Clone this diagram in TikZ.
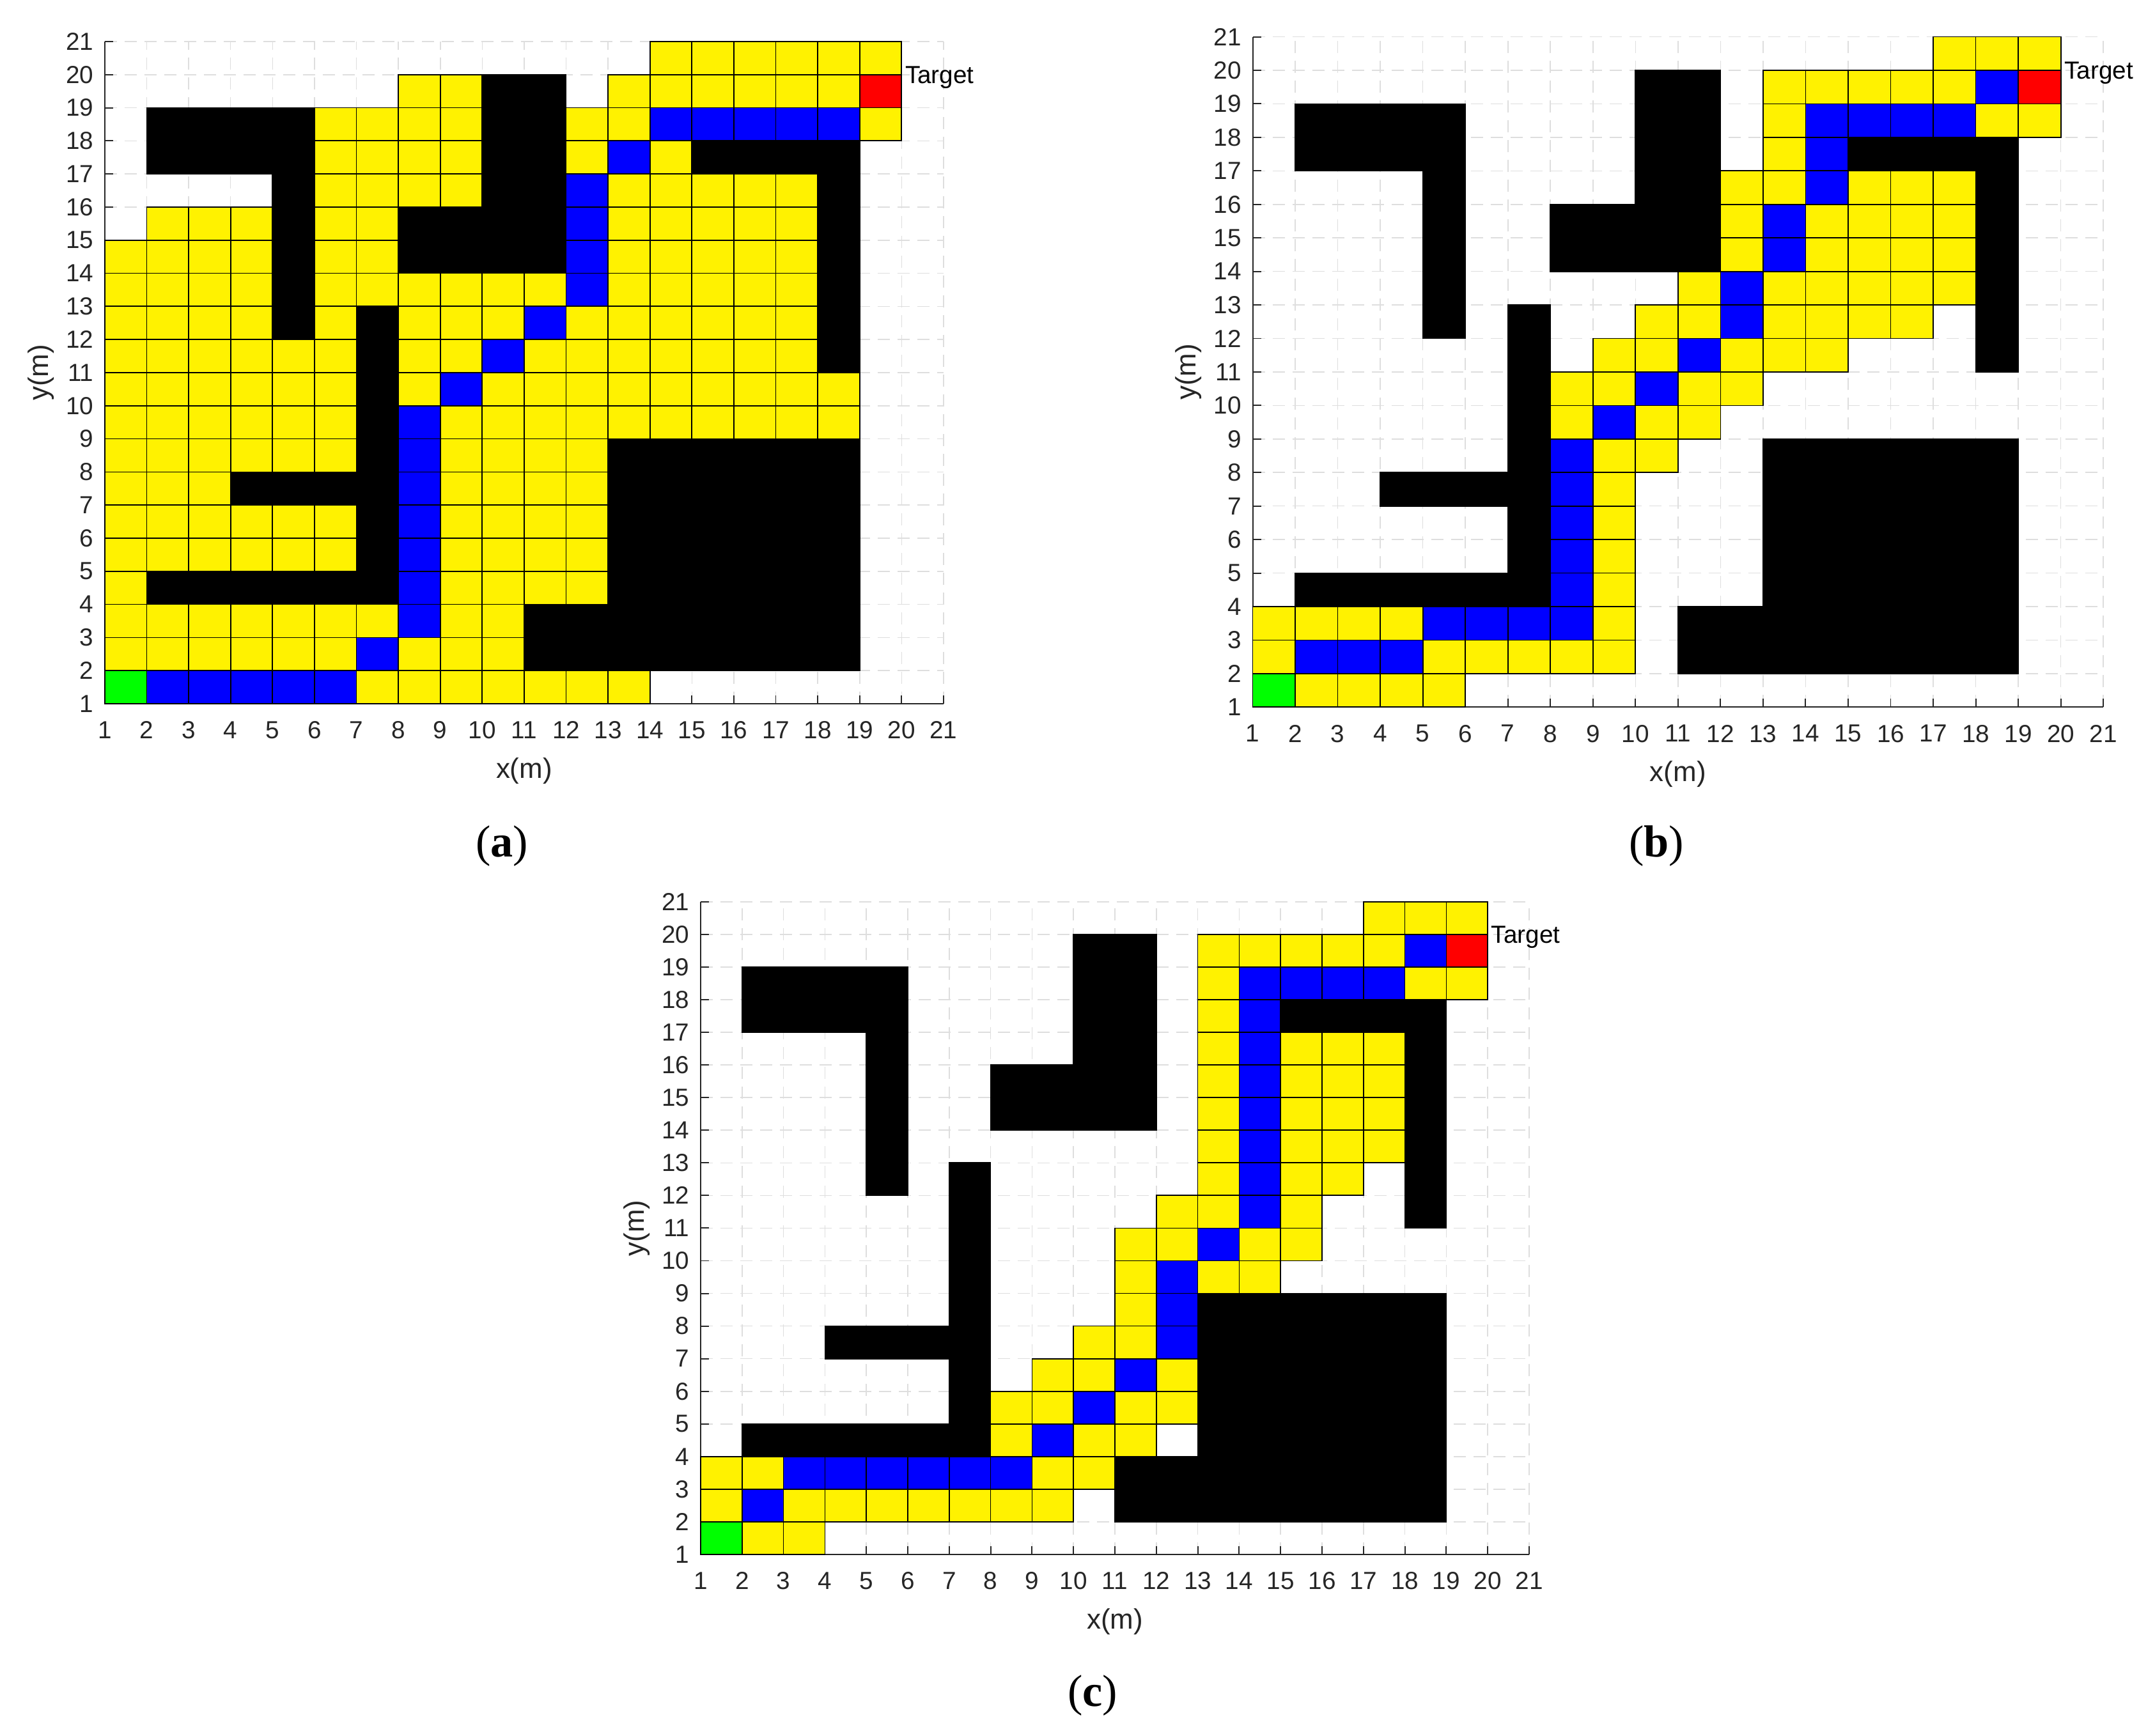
\documentclass[tikz,border=0pt]{standalone}
\usepackage{fontspec}
\setmainfont{Liberation Sans}
\newfontfamily\capfont{Liberation Serif}
\definecolor{gridgray}{RGB}{222,222,222}
\definecolor{axgray}{RGB}{38,38,38}
\tikzset{
  cellline/.style={line width=0.5pt, draw=black},
  yel/.style={cellline, fill=yellow},
  blu/.style={cellline, fill=blue},
  grn/.style={cellline, fill=green},
  redc/.style={cellline, fill=red},
  obst/.style={fill=black, draw=black, line width=0.5pt},
  gridline/.style={draw=gridgray, line width=0.45pt, dash pattern=on 0.19cm off 0.12cm},
  axisline/.style={draw=axgray, line width=0.55pt},
  ticklab/.style={font=\fontsize{11}{13}\selectfont, inner sep=0pt, text=axgray},
  axlab/.style={font=\fontsize{12.5}{15}\selectfont, inner sep=0pt, text=axgray},
  tgt/.style={font=\fontsize{11}{13}\selectfont, inner sep=0pt, text=black},
  capt/.style={font=\capfont\fontsize{20}{24}\selectfont, inner sep=0pt, text=black}
}
\newcommand\rowcells[3]{\foreach \cx in {#3}{\draw[#1] (\cx,#2) rectangle ++(1,1);}}
\newcommand\colcells[3]{\foreach \cy in {#3}{\draw[#1] (#2,\cy) rectangle ++(1,1);}}
\newcommand\panelframe[1]{%
  \foreach \g in {1,...,21}{%
    \draw[gridline] (\g,1) -- (\g,21);
    \draw[gridline] (1,\g) -- (21,\g);
  }%
  \draw[axisline] (1,21) -- (1,1) -- (21,1);
  \foreach \g in {1,...,21}{%
    \draw[axisline] (\g,1) -- ++(0cm,0.13cm);
    \draw[axisline] (1,\g) -- ++(0.13cm,0cm);
    \node[ticklab, anchor=north] (xt#1\g) at ([yshift=-0.27cm]\g,1) {\g};
    \node[ticklab, anchor=east] (yt#1\g) at ([xshift=-0.17cm]1,\g) {\g};
  }%
  \node[axlab] (xl#1) at ([yshift=-1.05cm]11,1) {x(m)};
  \node[axlab, rotate=90] (yl#1) at ([xshift=-1.0cm]1,11) {y(m)};
}
\newcommand\obstacles{%
  \draw[obst] (2,17) rectangle (6,19);
  \draw[obst] (5,12) rectangle (6,17);
  \draw[obst] (10,14) rectangle (12,20);
  \draw[obst] (8,14) rectangle (10,16);
  \draw[obst] (7,4) rectangle (8,13);
  \draw[obst] (2,4) rectangle (7,5);
  \draw[obst] (4,7) rectangle (7,8);
  \draw[obst] (15,17) rectangle (19,18);
  \draw[obst] (18,11) rectangle (19,17);
  \draw[obst] (13,2) rectangle (19,9);
  \draw[obst] (11,2) rectangle (13,4);
}
\newcommand\termcells[1]{%
  \draw[grn] (1,1) rectangle ++(1,1);
  \draw[redc] (19,19) rectangle ++(1,1);
  \node[tgt, anchor=base west] (tg#1) at ([xshift=0.05cm,yshift=-0.14cm]20,20) {Target};
}
\begin{document}
\begin{tikzpicture}
\useasboundingbox (0,0) rectangle (33.71,27.15);
\fill[white] (0,0) rectangle (33.71,27.15);

% ---------- panel (a)
\begin{scope}[shift={(0.983cm,15.622cm)}, x=0.656cm, y=0.518cm]
\panelframe{a}
\rowcells{yel}{20}{14,15,16,17,18,19}
\rowcells{yel}{19}{8,9,13,14,15,16,17,18}
\rowcells{yel}{18}{6,7,8,9,12,13,19}
\rowcells{yel}{17}{6,7,8,9,12,14}
\rowcells{yel}{16}{6,7,8,9,13,14,15,16,17}
\rowcells{yel}{15}{2,3,4,6,7,13,14,15,16,17}
\rowcells{yel}{14}{1,2,3,4,6,7,13,14,15,16,17}
\rowcells{yel}{13}{1,2,3,4,6,7,8,9,10,11,13,14,15,16,17}
\rowcells{yel}{12}{1,2,3,4,6,8,9,10,12,13,14,15,16,17}
\rowcells{yel}{11}{1,2,3,4,5,6,8,9,11,12,13,14,15,16,17}
\rowcells{yel}{10}{1,2,3,4,5,6,8,10,11,12,13,14,15,16,17,18}
\rowcells{yel}{9}{1,2,3,4,5,6,9,10,11,12,13,14,15,16,17,18}
\rowcells{yel}{8}{1,2,3,4,5,6,9,10,11,12}
\rowcells{yel}{7}{1,2,3,9,10,11,12}
\rowcells{yel}{6}{1,2,3,4,5,6,9,10,11,12}
\rowcells{yel}{5}{1,2,3,4,5,6,9,10,11,12}
\rowcells{yel}{4}{1,9,10,11,12}
\rowcells{yel}{3}{1,2,3,4,5,6,7,9,10}
\rowcells{yel}{2}{1,2,3,4,5,6,8,9,10}
\rowcells{yel}{1}{7,8,9,10,11,12,13}
\rowcells{blu}{1}{2,3,4,5,6}
\rowcells{blu}{2}{7}
\colcells{blu}{8}{3,4,5,6,7,8,9}
\rowcells{blu}{10}{9}
\rowcells{blu}{11}{10}
\rowcells{blu}{12}{11}
\colcells{blu}{12}{13,14,15,16}
\rowcells{blu}{17}{13}
\rowcells{blu}{18}{14,15,16,17,18}
\obstacles
\termcells{a}
\end{scope}

% ---------- panel (b)
\begin{scope}[shift={(18.930cm,15.562cm)}, x=0.6653cm, y=0.5244cm]
\panelframe{b}
\rowcells{yel}{20}{17,18,19}
\rowcells{yel}{19}{13,14,15,16,17}
\rowcells{yel}{18}{13,18,19}
\rowcells{yel}{17}{13}
\rowcells{yel}{16}{12,13,15,16,17}
\rowcells{yel}{15}{12,14,15,16,17}
\rowcells{yel}{14}{12,14,15,16,17}
\rowcells{yel}{13}{11,13,14,15,16,17}
\rowcells{yel}{12}{10,11,13,14,15,16}
\rowcells{yel}{11}{9,10,12,13,14}
\rowcells{yel}{10}{8,9,11,12}
\rowcells{yel}{9}{8,10,11}
\rowcells{yel}{8}{9,10}
\colcells{yel}{9}{4,5,6,7}
\rowcells{yel}{3}{1,2,3,4,9}
\rowcells{yel}{2}{1,5,6,7,8,9}
\rowcells{yel}{1}{2,3,4,5}
\rowcells{blu}{2}{2,3,4}
\rowcells{blu}{3}{5,6,7,8}
\colcells{blu}{8}{4,5,6,7,8}
\rowcells{blu}{9}{9}
\rowcells{blu}{10}{10}
\rowcells{blu}{11}{11}
\colcells{blu}{12}{12,13}
\colcells{blu}{13}{14,15}
\colcells{blu}{14}{16,17}
\rowcells{blu}{18}{14,15,16,17}
\rowcells{blu}{19}{18}
\obstacles
\termcells{b}
\end{scope}

% ---------- panel (c)
\begin{scope}[shift={(10.312cm,2.319cm)}, x=0.648cm, y=0.5106cm]
\panelframe{c}
\rowcells{yel}{20}{17,18,19}
\rowcells{yel}{19}{13,14,15,16,17}
\rowcells{yel}{18}{13,18,19}
\rowcells{yel}{17}{13}
\rowcells{yel}{16}{13,15,16,17}
\rowcells{yel}{15}{13,15,16,17}
\rowcells{yel}{14}{13,15,16,17}
\rowcells{yel}{13}{13,15,16,17}
\rowcells{yel}{12}{13,15,16}
\rowcells{yel}{11}{12,13,15}
\rowcells{yel}{10}{11,12,14,15}
\rowcells{yel}{9}{11,13,14}
\rowcells{yel}{8}{11}
\rowcells{yel}{7}{10,11}
\rowcells{yel}{6}{9,10,12}
\rowcells{yel}{5}{8,9,11,12}
\rowcells{yel}{4}{8,10,11}
\rowcells{yel}{3}{1,2,9,10}
\rowcells{yel}{2}{1,3,4,5,6,7,8,9}
\rowcells{yel}{1}{2,3}
\rowcells{blu}{2}{2}
\rowcells{blu}{3}{3,4,5,6,7,8}
\rowcells{blu}{4}{9}
\rowcells{blu}{5}{10}
\rowcells{blu}{6}{11}
\colcells{blu}{12}{7,8,9}
\rowcells{blu}{10}{13}
\colcells{blu}{14}{11,12,13,14,15,16,17,18}
\rowcells{blu}{18}{15,16,17}
\rowcells{blu}{19}{18}
\obstacles
\termcells{c}
\end{scope}

% ---------- captions
\node[capt] (capa) at (7.85,13.91) {(\textbf{a})};
\node[capt] (capb) at (25.91,13.91) {(\textbf{b})};
\node[capt] (capc) at (17.09,0.62) {(\textbf{c})};
\end{tikzpicture}
\end{document}
